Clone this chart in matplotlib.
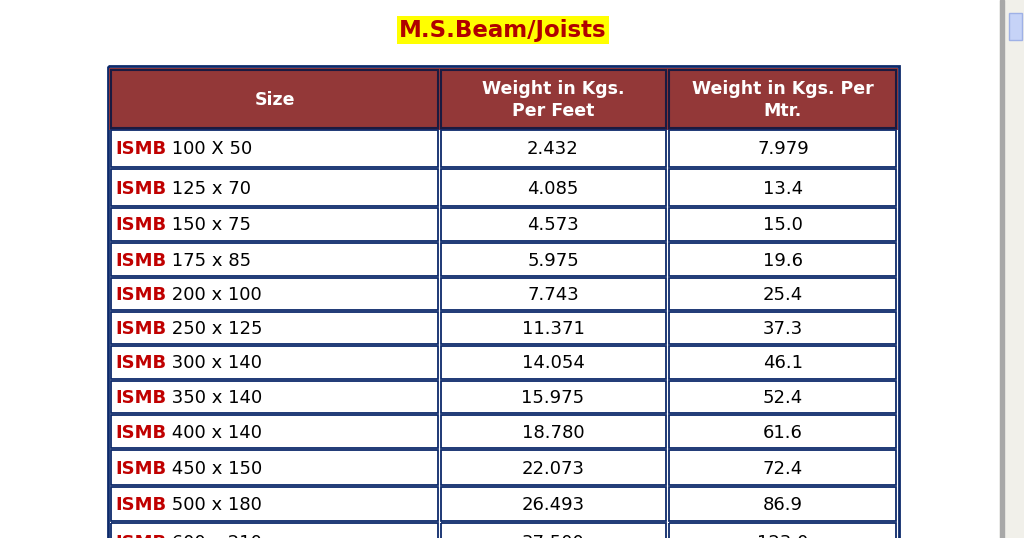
import matplotlib
matplotlib.use("Agg")
import matplotlib.pyplot as plt
from matplotlib.patches import Rectangle

title = "M.S.Beam/Joists"
headers = ["Size", "Weight in Kgs.\nPer Feet", "Weight in Kgs. Per\nMtr."]
sizes = ["100 X 50", "125 x 70", "150 x 75", "175 x 85", "200 x 100", "250 x 125",
         "300 x 140", "350 x 140", "400 x 140", "450 x 150", "500 x 180", "600 x 210"]
per_feet = ["2.432", "4.085", "4.573", "5.975", "7.743", "11.371", "14.054", "15.975",
            "18.780", "22.073", "26.493", "37.500"]
per_mtr = ["7.979", "13.4", "15.0", "19.6", "25.4", "37.3", "46.1", "52.4", "61.6",
           "72.4", "86.9", "123.0"]

W, H = 1024, 538
fig = plt.figure(figsize=(W/100, H/100), dpi=100)
ax = fig.add_axes([0, 0, 1, 1])
ax.set_xlim(0, W); ax.set_ylim(H, 0); ax.axis("off")

navy = "#0d2a6b"
font = "DejaVu Sans"
# scrollbar area
ax.add_patch(Rectangle((1000, 0), 24, H, color="#f1f0ea"))
ax.add_patch(Rectangle((1000, 0), 4, H, color="#a8a8a8"))
ax.add_patch(Rectangle((1009, 13), 13, 27, facecolor="#c6d3f7", edgecolor="#9fb1e6"))

ax.text(503, 30, title, ha="center", va="center", fontsize=16.5, fontweight="bold",
        color="#b00000", family=font,
        bbox=dict(facecolor="#ffff00", edgecolor="none", pad=1.5))

ax.add_patch(Rectangle((108, 66), 791, 480, fill=False, edgecolor=navy, lw=2))
cols = [(111, 438), (441, 666), (669, 896)]
ax.add_patch(Rectangle((109, 68), 789, 62, facecolor="#933838", edgecolor="none"))
for (x0, x1), h in zip(cols, headers):
    ax.add_patch(Rectangle((x0, 70), x1 - x0, 58, fill=False, edgecolor="#1a1a40", lw=1.5))
    ax.text((x0 + x1) / 2, 100, h, ha="center", va="center", color="white",
            fontsize=12.5, fontweight="bold", family=font, linespacing=1.25)

tops = [130, 169, 208, 243, 278, 312, 346, 381, 415, 450, 487, 523]
bots = [167, 206, 241, 276, 310, 344, 379, 413, 448, 485, 521, 560]
for i in range(len(sizes)):
    t, b = tops[i], bots[i]
    for (x0, x1) in cols:
        ax.add_patch(Rectangle((x0, t), x1 - x0, b - t, fill=False, edgecolor=navy, lw=1.3))
    yc = (t + b) / 2 + 1
    tx = ax.text(115, yc, "ISMB", ha="left", va="center", color="#c00000",
                 fontsize=13, fontweight="bold", family=font)
    ax.annotate(" " + sizes[i], xycoords=tx, xy=(1, 0), va="bottom", ha="left",
                fontsize=13, family=font, color="black")
    ax.text(553, yc, per_feet[i], ha="center", va="center", fontsize=13, family=font)
    ax.text(783, yc, per_mtr[i], ha="center", va="center", fontsize=13, family=font)

fig.savefig("out.png", dpi=100)
